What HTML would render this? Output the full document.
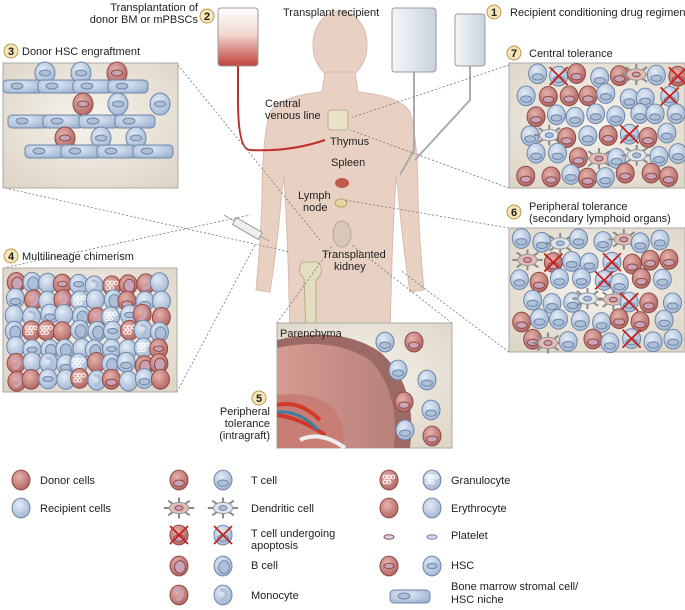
<!DOCTYPE html>
<html><head><meta charset="utf-8">
<style>
html,body{margin:0;padding:0;background:#fff;width:685px;height:610px;overflow:hidden}
svg{display:block}
text{font-family:"Liberation Sans",sans-serif;font-size:11px;fill:#222}
</style></head><body>
<svg id="s" width="685" height="610" viewBox="0 0 685 610" xmlns="http://www.w3.org/2000/svg">
<defs>
<radialGradient id="bx" cx="50%" cy="45%" r="70%"><stop offset="0" stop-color="#f7f4ee"/><stop offset="1" stop-color="#ddd5c6"/></radialGradient>
<radialGradient id="rc" cx="40%" cy="35%" r="70%"><stop offset="0" stop-color="#e4ecf6"/><stop offset="1" stop-color="#9fb4d2"/></radialGradient>
<radialGradient id="dc" cx="40%" cy="35%" r="70%"><stop offset="0" stop-color="#e6b3ad"/><stop offset="1" stop-color="#b0625e"/></radialGradient>
<linearGradient id="bag" x1="0" y1="0" x2="0" y2="1"><stop offset="0" stop-color="#fff"/><stop offset="0.45" stop-color="#f2d8d2"/><stop offset="1" stop-color="#c0413a"/></linearGradient>
<linearGradient id="bag2" x1="0" y1="0" x2="1" y2="0"><stop offset="0" stop-color="#f4f6f9"/><stop offset="1" stop-color="#c9d2de"/></linearGradient>
<linearGradient id="kd" x1="0" y1="0" x2="1" y2="0"><stop offset="0" stop-color="#d59b93"/><stop offset="1" stop-color="#b8817a"/></linearGradient>
</defs>
<!-- body -->
<g fill="#e8d0c3" stroke="#d8bcae" stroke-width="1">
<ellipse cx="340" cy="45" rx="27" ry="34"/>
<path d="M325 72 L355 72 L358 92 Q400 96 410 112 Q418 140 418 200 Q420 250 424 290 L410 292 Q402 240 398 190 L396 175 Q393 230 392 260 L390 330 L290 330 L288 260 Q287 230 284 175 L282 190 Q278 240 270 292 L256 290 Q260 250 262 200 Q262 140 270 112 Q280 96 322 92 Z"/>
</g>
<!-- organs -->
<rect x="328" y="110" width="20" height="20" rx="3" fill="#e8e2c8" stroke="#b8ad8a"/>
<text x="330" y="145" font-size="10.5">Thymus</text>
<ellipse cx="342" cy="183" rx="7" ry="5" fill="#c05a4a"/>
<text x="331" y="166" font-size="10.5">Spleen</text>
<ellipse cx="341" cy="203" rx="6" ry="4" fill="#e8d6a6" stroke="#b89f6a"/>
<text x="298" y="199" font-size="10.5">Lymph</text><text x="303" y="211" font-size="10.5">node</text>
<ellipse cx="342" cy="234" rx="9" ry="13" fill="#d8c8b8" stroke="#b8a898"/>
<text x="322" y="258" font-size="10.5">Transplanted</text><text x="334" y="270" font-size="10.5">kidney</text>
<!-- bone -->
<path d="M302 262 Q296 272 304 278 L306 330 L316 330 L316 280 Q326 272 318 262 Z" fill="#e4ddc2" stroke="#b8ad8a"/>
<!-- syringe -->
<g transform="translate(250,230) rotate(-60)"><rect x="-4" y="-18" width="8" height="30" fill="#eee" stroke="#999"/><line x1="0" y1="12" x2="0" y2="22" stroke="#999"/><line x1="0" y1="-18" x2="0" y2="-30" stroke="#999"/></g>
<!-- red bag -->
<rect x="218" y="8" width="40" height="58" rx="3" fill="url(#bag)" stroke="#999"/>
<path d="M238 66 L238 100 Q238 150 250 150 Q290 152 325 140" fill="none" stroke="#c0302a" stroke-width="2"/>
<text x="265" y="107" font-size="10.5">Central</text><text x="265" y="119" font-size="10.5">venous line</text>
<!-- IV bags -->
<rect x="392" y="8" width="44" height="64" rx="3" fill="url(#bag2)" stroke="#999"/>
<rect x="455" y="14" width="30" height="52" rx="3" fill="url(#bag2)" stroke="#999"/>
<path d="M414 72 L414 150 L400 175 M470 66 L470 100 L415 160" fill="none" stroke="#aaa" stroke-width="2"/>
<!-- dotted connectors -->
<g stroke="#777" stroke-width="0.8" stroke-dasharray="2,2" fill="none">
<line x1="178" y1="65" x2="320" y2="240"/><line x1="5" y1="188" x2="290" y2="252"/>
<line x1="3" y1="268" x2="250" y2="215"/><line x1="177" y1="392" x2="255" y2="245"/>
<line x1="509" y1="65" x2="350" y2="118"/><line x1="509" y1="188" x2="350" y2="130"/>
<line x1="509" y1="228" x2="345" y2="200"/><line x1="509" y1="352" x2="400" y2="270"/>
<line x1="277" y1="323" x2="333" y2="245"/><line x1="452" y1="323" x2="352" y2="245"/>
</g>
<!-- boxes -->
<rect x="3" y="63" width="175" height="125" fill="url(#bx)" stroke="#aaa"/>
<rect x="3" y="268" width="174" height="124" fill="url(#bx)" stroke="#aaa"/>
<rect x="509" y="63" width="176" height="125" fill="url(#bx)" stroke="#aaa"/>
<rect x="509" y="228" width="176" height="124" fill="url(#bx)" stroke="#aaa"/>
<rect x="277" y="323" width="175" height="125" fill="url(#bx)" stroke="#aaa"/>
<!-- kidney -->
<path d="M277 340 Q340 325 380 352 Q418 385 410 448 L277 448 Z" fill="#9c6a64"/>
<path d="M277 348 Q332 336 370 360 Q400 392 394 448 L277 448 Z" fill="url(#kd)"/>
<path d="M277 395 Q315 390 335 410 Q348 430 342 448 L277 448Z" fill="#c97e75"/>
<path d="M277 405 Q300 400 320 420 M277 415 Q300 418 325 435" stroke="#d03a2a" stroke-width="4" fill="none"/>
<path d="M277 412 Q300 410 318 430" stroke="#3a7ea0" stroke-width="3" fill="none"/>
<path d="M300 440 Q320 430 345 448" stroke="#eee" stroke-width="4" fill="none"/>
<text x="280" y="337" font-size="10.5">Parenchyma</text>
<g id="cells"></g>
<!-- labels -->
<g id="labels">
<text x="198" y="11" font-size="10.5" text-anchor="end">Transplantation of</text><text x="198" y="23" font-size="10.5" text-anchor="end">donor BM or mPBSCs</text>
<text x="283" y="16" font-size="10.5">Transplant recipient</text>
<text x="510" y="16" font-size="10.5">Recipient conditioning drug regimen</text>
<text x="22" y="55" font-size="10.5">Donor HSC engraftment</text>
<text x="22" y="260" font-size="10.5">Multilineage chimerism</text>
<text x="529" y="57" font-size="10.5">Central tolerance</text>
<text x="529" y="210" font-size="10.5">Peripheral tolerance</text><text x="529" y="222" font-size="10.5">(secondary lymphoid organs)</text>
<text x="270" y="415" font-size="10.5" text-anchor="end">Peripheral</text><text x="270" y="427" font-size="10.5" text-anchor="end">tolerance</text><text x="270" y="439" font-size="10.5" text-anchor="end">(intragraft)</text>
<text x="40" y="484">Donor cells</text><text x="40" y="512">Recipient cells</text>
<text x="251" y="484">T cell</text><text x="251" y="512">Dendritic cell</text>
<text x="251" y="537">T cell undergoing</text><text x="251" y="549">apoptosis</text>
<text x="251" y="569">B cell</text><text x="251" y="599">Monocyte</text>
<text x="451" y="484">Granulocyte</text><text x="451" y="512">Erythrocyte</text>
<text x="451" y="539">Platelet</text><text x="451" y="569">HSC</text>
<text x="451" y="590">Bone marrow stromal cell/</text><text x="451" y="603">HSC niche</text>
</g>
</svg>
<script>
var NS="http://www.w3.org/2000/svg",C=document.getElementById("cells");
function el(t,a){var e=document.createElementNS(NS,t);for(var k in a)e.setAttribute(k,a[k]);C.appendChild(e);return e;}
function cell(x,y,d,type,r){r=r||9;var f=d?"url(#dc)":"url(#rc)",s=d?"#8e4a48":"#6e86a8",n=d?"#c9a3b8":"#aebfd8";
 if(type=="dend"){for(var i=0;i<8;i++){var a=i*Math.PI/4;el("line",{x1:x,y1:y,x2:x+Math.cos(a)*r*1.9,y2:y+Math.sin(a)*r*1.3,stroke:"#8a8a8a","stroke-width":2});}
  el("ellipse",{cx:x,cy:y,rx:r*1.2,ry:r*0.7,fill:d?"#e4bcb6":"#dde6ee",stroke:"#999"});el("ellipse",{cx:x,cy:y,rx:r*0.5,ry:r*0.3,fill:n,stroke:s});return;}
 if(type=="plt"){el("ellipse",{cx:x,cy:y,rx:5,ry:2.2,fill:"#cfd9e8",stroke:s});return;}
 if(type=="strom"){el("rect",{x:x-20,y:y-6,width:40,height:13,rx:4,fill:"url(#rc)",stroke:s});el("ellipse",{cx:x-6,cy:y,rx:6,ry:3,fill:n,stroke:s});return;}
 el("ellipse",{cx:x,cy:y,rx:r,ry:r*1.1,fill:f,stroke:s,"stroke-width":1});
 if(type=="t"||type=="x"){el("ellipse",{cx:x,cy:y+r*0.35,rx:r*0.6,ry:r*0.35,fill:n,stroke:s});}
 if(type=="hsc"){el("ellipse",{cx:x,cy:y,rx:r*0.55,ry:r*0.3,fill:n,stroke:s});}
 if(type=="b"){el("ellipse",{cx:x+1,cy:y+1,rx:r*0.6,ry:r*0.7,fill:n,stroke:s});}
 if(type=="mono"){el("path",{d:"M"+(x-3)+" "+(y-5)+" q8 0 6 6 q-2 5 -6 3",fill:"none",stroke:n,"stroke-width":3});}
 if(type=="gran"){for(var i=0;i<5;i++)el("circle",{cx:x-4+(i%3)*4,cy:y-3+Math.floor(i/3)*5,r:1.8,fill:"none",stroke:"#fff"});}
 if(type=="x"){el("path",{d:"M"+(x-r)+" "+(y-r)+" L"+(x+r)+" "+(y+r)+" M"+(x+r)+" "+(y-r)+" L"+(x-r)+" "+(y+r),stroke:"#c8201a","stroke-width":1.8});}
}
var seed=7;function rnd(){seed=(seed*9301+49297)%233280;return seed/233280;}
// box3
[[73,[[23,0],[58,0],[93,0],[128,0]],[[45,1],[81,1],[117,0]]],[108,[[28,0],[63,0],[99,0],[135,0]],[[83,0],[118,1],[160,1]]],[138,[[45,0],[81,0],[117,0],[153,0]],[[65,0],[101,1],[136,1]]]].forEach(function(r){
 r[2].forEach(function(c){cell(c[0],r[0]-6+ (r[0]==108?-11:-7) +13,!c[1],"hsc",10);});
 r[1].forEach(function(c){cell(c[0],r[0]+13,0,"strom");});
});
// box4 chimerism
var types=["gran","mono","t","b","ery","hsc","gran","ery"];
for(var yy=282;yy<390;yy+=16)for(var xx=14;xx<172;xx+=16){var t=types[Math.floor(rnd()*8)];cell(xx+rnd()*4,yy+rnd()*4,rnd()<0.35,t=="ery"?"":t,9);}
// box7 grid with jitter
function fill(x0,y0,x1,y1,pd,px,pdn){for(var y=y0;y<y1;y+=20)for(var x=x0+((y/20)%2)*9;x<x1;x+=20){var r=rnd();var xx=x+rnd()*6-3,yy=y+rnd()*6-3;
 if(r>0.86)cell(xx,yy,rnd()<0.4,"dend",8);else cell(xx,yy,rnd()<pd,r>1-px-0.14&&r<=0.86?"x":"t",9);}}
fill(521,76,680,186,0.3,0.12);
fill(521,241,680,350,0.25,0.1);
// box5
[[385,342,0],[414,342,1],[398,370,0],[427,380,0],[404,402,1],[431,410,0],[405,430,0],[432,436,1]].forEach(function(c){cell(c[0],c[1],c[2],"t",9);});
// legend
cell(21,480,1,"",9);cell(21,508,0,"",9);
cell(179,480,1,"t",9);cell(223,480,0,"t",9);
cell(179,508,1,"dend",8);cell(223,508,0,"dend",8);
cell(179,535,1,"x",9);cell(223,535,0,"x",9);
cell(179,566,1,"b",9);cell(223,566,0,"b",9);
cell(179,595,1,"mono",9);cell(223,595,0,"mono",9);
cell(389,480,1,"gran",9);cell(432,480,0,"gran",9);
cell(389,508,1,"",9);cell(432,508,0,"",9);
cell(389,537,1,"plt");cell(432,537,0,"plt");
cell(389,566,1,"hsc",9);cell(432,566,0,"hsc",9);
cell(410,596,0,"strom");
// numbered circles
[[207,16,"2"],[494,12,"1"],[11,51,"3"],[11,256,"4"],[514,53,"7"],[514,212,"6"],[259,398,"5"]].forEach(function(n){
 el("circle",{cx:n[0],cy:n[1],r:7,fill:"#f6e6b8",stroke:"#b89a50"});
 var t=el("text",{x:n[0],y:n[1]+4,"text-anchor":"middle","font-size":"10","font-weight":"bold"});t.textContent=n[2];});
</script>
</body></html>
